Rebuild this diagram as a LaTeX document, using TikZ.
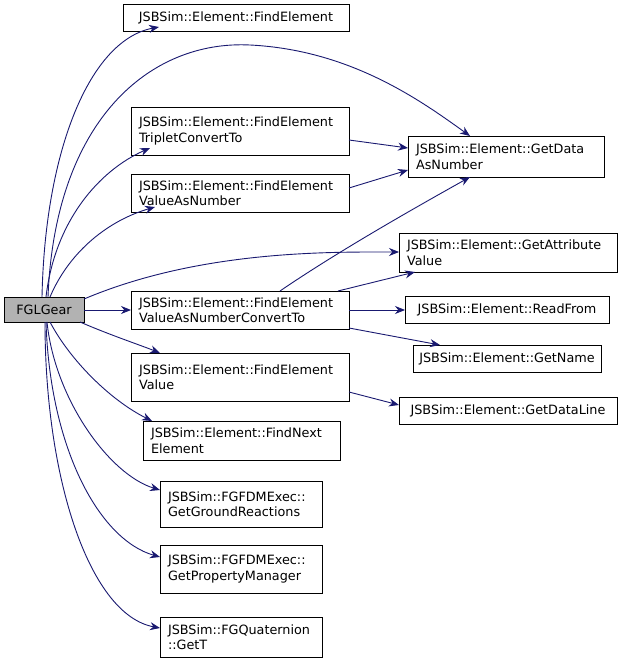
\documentclass[tikz,border=0pt]{standalone}
\usepackage{fontspec}
\setmainfont{DejaVu Sans}
\usetikzlibrary{arrows.meta}
\definecolor{edge}{HTML}{191970}
\begin{document}
\begin{tikzpicture}[x=1pt,y=-1pt,
 box/.style={draw=black,fill=white,inner sep=0pt,font=\fontsize{12.8}{15.5}\selectfont},
 e/.style={draw=edge,line width=0.9pt,-{Stealth[length=10pt,width=8pt]}}]
\useasboundingbox (0,0) rectangle (623,663);
\newcommand{\bx}[6]{\node[box,minimum width=#4-#2,minimum height=#5-#3] (#1) at ({(#2+#4)/2},{(#3+#5)/2}) {\begin{minipage}{\dimexpr(#4pt-#2pt-16pt)\relax}\raggedright #6\end{minipage}};}
\newcommand{\bc}[6]{\node[box,minimum width=#4-#2,minimum height=#5-#3] (#1) at ({(#2+#4)/2},{(#3+#5)/2}) {#6};}
\node[box,fill=gray!60,minimum width=80,minimum height=25] (g) at (44,309.5) {FGLGear};
\bc{fe}{123}{4}{349}{31}{JSBSim::Element::FindElement}
\bx{tc}{131}{107}{349}{155}{JSBSim::Element::FindElement\\TripletConvertTo}
\bx{va}{131}{174}{349}{212}{JSBSim::Element::FindElement\\ValueAsNumber}
\bx{gd}{408}{136}{604}{177}{JSBSim::Element::GetData\\AsNumber}
\bx{ga}{399}{233}{617}{272}{JSBSim::Element::GetAttribute\\Value}
\bx{ct}{131}{291}{349}{329}{JSBSim::Element::FindElement\\ValueAsNumberConvertTo}
\bc{rf}{405}{296}{609}{323}{JSBSim::Element::ReadFrom}
\bc{gn}{413}{345}{601}{372}{JSBSim::Element::GetName}
\bx{fv}{131}{353}{349}{401}{JSBSim::Element::FindElement\\Value}
\bc{gl}{399}{397}{617}{424}{JSBSim::Element::GetDataLine}
\bx{fn}{143}{421}{340}{460}{JSBSim::Element::FindNext\\Element}
\bx{gr}{160}{481}{322}{527}{JSBSim::FGFDMExec::\\GetGroundReactions}
\bx{pm}{160}{545}{322}{593}{JSBSim::FGFDMExec::\\GetPropertyManager}
\bx{gt}{160}{617}{322}{657}{JSBSim::FGQuaternion\\::GetT}
\path[e] (42,297) .. controls (45,150) and (90,40) .. (159,27);
\path[e] (48,297) .. controls (55,120) and (150,40) .. (250,45) .. controls (350,50) and (420,100) .. (470,136);
\path[e] (46,297) .. controls (55,220) and (100,170) .. (150,148);
\path[e] (50,297) .. controls (70,250) and (110,220) .. (155,207);
\path[e] (84,299) .. controls (200,250) and (330,252) .. (399,252);
\path[e] (84,310) -- (131,310);
\path[e] (80,322) .. controls (110,335) and (140,345) .. (160,353);
\path[e] (50,322) .. controls (70,360) and (110,400) .. (152,421);
\path[e] (47,322) .. controls (55,400) and (110,475) .. (160,490);
\path[e] (46,322) .. controls (50,450) and (100,540) .. (160,557);
\path[e] (45,322) .. controls (45,480) and (90,615) .. (160,628);
\path[e] (349,140) -- (408,148);
\path[e] (349,188) -- (408,170);
\path[e] (280,291) .. controls (340,250) and (420,205) .. (470,177);
\path[e] (338,291) -- (415,272);
\path[e] (349,310) -- (405,310);
\path[e] (349,328) -- (440,345);
\path[e] (349,392) -- (399,405);
\end{tikzpicture}
\end{document}
